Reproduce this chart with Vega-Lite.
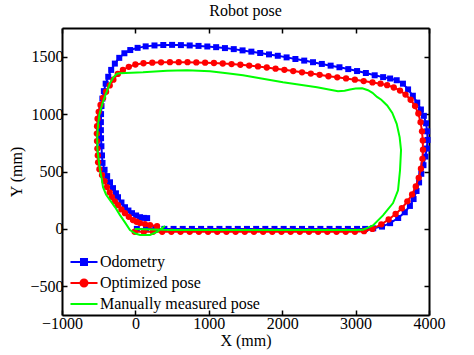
{
 "$schema": "https://vega.github.io/schema/vega-lite/v6.json",
 "width": 367, "height": 287,
 "autosize": "none",
 "padding": {"left": 62, "top": 28, "right": 45, "bottom": 40},
 "background": "white",
 "title": {"text": "Robot pose", "font": "Liberation Serif", "fontSize": 16, "fontWeight": "normal", "color": "black", "offset": 8},
 "config": {
  "font": "Liberation Serif",
  "view": {"stroke": null},
  "axis": {"domainColor": "black", "domainWidth": 2, "tickColor": "black", "tickWidth": 1.5, "labelFont": "Liberation Serif", "labelFontSize": 16, "labelColor": "black", "titleFont": "Liberation Serif", "titleFontSize": 16, "titleFontWeight": "normal", "titleColor": "black", "grid": false, "labelFlush": false, "labelOverlap": false, "format": "d"},
  "legend": {"labelFont": "Liberation Serif", "labelFontSize": 16, "labelColor": "black"}
 },
 "datasets": {
  "odo": [
   {"i":1,"x":20,"y":0},{"i":2,"x":145,"y":0},{"i":3,"x":270,"y":0},{"i":4,"x":395,"y":0},{"i":5,"x":520,"y":0},{"i":6,"x":645,"y":0},{"i":7,"x":770,"y":0},{"i":8,"x":895,"y":0},{"i":9,"x":1020,"y":0},{"i":10,"x":1145,"y":0},{"i":11,"x":1270,"y":0},{"i":12,"x":1395,"y":0},{"i":13,"x":1520,"y":0},{"i":14,"x":1645,"y":0},{"i":15,"x":1770,"y":0},{"i":16,"x":1895,"y":0},{"i":17,"x":2020,"y":0},{"i":18,"x":2145,"y":0},{"i":19,"x":2270,"y":0},{"i":20,"x":2395,"y":0},{"i":21,"x":2520,"y":0},{"i":22,"x":2645,"y":0},{"i":23,"x":2770,"y":0},{"i":24,"x":2895,"y":0},{"i":25,"x":3020,"y":0},{"i":26,"x":3130,"y":0},
   {"i":27,"x":3240,"y":5},{"i":28,"x":3360,"y":20},{"i":29,"x":3470,"y":50},{"i":30,"x":3580,"y":95},{"i":31,"x":3670,"y":145},{"i":32,"x":3740,"y":200},{"i":33,"x":3790,"y":260},{"i":34,"x":3830,"y":330},{"i":35,"x":3865,"y":405},{"i":36,"x":3895,"y":480},{"i":37,"x":3925,"y":555},{"i":38,"x":3950,"y":630},{"i":39,"x":3970,"y":700},{"i":40,"x":3980,"y":775},{"i":41,"x":3975,"y":850},{"i":42,"x":3960,"y":920},{"i":43,"x":3930,"y":985},{"i":44,"x":3890,"y":1040},{"i":45,"x":3840,"y":1100},{"i":46,"x":3780,"y":1160},{"i":47,"x":3715,"y":1215},{"i":48,"x":3645,"y":1265},{"i":49,"x":3560,"y":1295},{"i":50,"x":3470,"y":1310},{"i":51,"x":3375,"y":1322},
   {"i":52,"x":3260,"y":1338},{"i":53,"x":3140,"y":1358},{"i":54,"x":3020,"y":1375},{"i":55,"x":2900,"y":1392},{"i":56,"x":2780,"y":1408},{"i":57,"x":2660,"y":1422},{"i":58,"x":2540,"y":1437},{"i":59,"x":2420,"y":1452},{"i":60,"x":2300,"y":1466},{"i":61,"x":2180,"y":1480},{"i":62,"x":2060,"y":1494},{"i":63,"x":1940,"y":1508},{"i":64,"x":1820,"y":1520},{"i":65,"x":1700,"y":1532},{"i":66,"x":1580,"y":1544},{"i":67,"x":1460,"y":1555},{"i":68,"x":1340,"y":1566},{"i":69,"x":1220,"y":1575},{"i":70,"x":1100,"y":1583},{"i":71,"x":980,"y":1589},{"i":72,"x":860,"y":1594},{"i":73,"x":740,"y":1598},{"i":74,"x":620,"y":1601},{"i":75,"x":500,"y":1603},{"i":76,"x":380,"y":1602},{"i":77,"x":260,"y":1598},{"i":78,"x":140,"y":1590},{"i":79,"x":30,"y":1577},{"i":80,"x":-70,"y":1558},{"i":81,"x":-150,"y":1530},{"i":82,"x":-220,"y":1490},{"i":83,"x":-280,"y":1440},{"i":84,"x":-330,"y":1385},{"i":85,"x":-370,"y":1325},{"i":86,"x":-405,"y":1265},{"i":87,"x":-430,"y":1200},{"i":88,"x":-450,"y":1135},{"i":89,"x":-462,"y":1070},{"i":90,"x":-468,"y":1000},{"i":91,"x":-470,"y":930},{"i":92,"x":-470,"y":860},{"i":93,"x":-468,"y":790},{"i":94,"x":-463,"y":720},{"i":95,"x":-455,"y":640},{"i":96,"x":-448,"y":575},{"i":97,"x":-420,"y":515},{"i":98,"x":-385,"y":460},{"i":99,"x":-346,"y":406},{"i":100,"x":-305,"y":355},{"i":101,"x":-265,"y":310},{"i":102,"x":-237,"y":276},{"i":103,"x":-190,"y":230},{"i":104,"x":-142,"y":189},{"i":105,"x":-95,"y":160},{"i":106,"x":-46,"y":137},{"i":107,"x":10,"y":117},{"i":108,"x":63,"y":102},{"i":109,"x":115,"y":96},{"i":110,"x":160,"y":94}
  ],
  "opt": [
   {"i":1,"x":-10,"y":-25},{"i":2,"x":115,"y":-25},{"i":3,"x":240,"y":-25},{"i":4,"x":365,"y":-25},{"i":5,"x":490,"y":-25},{"i":6,"x":615,"y":-25},{"i":7,"x":740,"y":-25},{"i":8,"x":865,"y":-25},{"i":9,"x":990,"y":-25},{"i":10,"x":1115,"y":-25},{"i":11,"x":1240,"y":-25},{"i":12,"x":1365,"y":-25},{"i":13,"x":1490,"y":-25},{"i":14,"x":1615,"y":-25},{"i":15,"x":1740,"y":-25},{"i":16,"x":1865,"y":-25},{"i":17,"x":1990,"y":-25},{"i":18,"x":2115,"y":-25},{"i":19,"x":2240,"y":-25},{"i":20,"x":2365,"y":-25},{"i":21,"x":2490,"y":-25},{"i":22,"x":2615,"y":-25},{"i":23,"x":2740,"y":-25},{"i":24,"x":2865,"y":-25},{"i":25,"x":2990,"y":-25},{"i":26,"x":3115,"y":-20},
   {"i":27,"x":3230,"y":0},{"i":28,"x":3350,"y":40},{"i":29,"x":3450,"y":82},{"i":30,"x":3545,"y":130},{"i":31,"x":3630,"y":180},{"i":32,"x":3705,"y":240},{"i":33,"x":3770,"y":300},{"i":34,"x":3820,"y":370},{"i":35,"x":3860,"y":445},{"i":36,"x":3890,"y":525},{"i":37,"x":3910,"y":610},{"i":38,"x":3918,"y":690},{"i":39,"x":3915,"y":770},{"i":40,"x":3905,"y":850},{"i":41,"x":3885,"y":930},{"i":42,"x":3855,"y":1005},{"i":43,"x":3810,"y":1070},{"i":44,"x":3750,"y":1125},{"i":45,"x":3680,"y":1170},{"i":46,"x":3605,"y":1205},{"i":47,"x":3520,"y":1232},{"i":48,"x":3430,"y":1252},{"i":49,"x":3340,"y":1265},
   {"i":50,"x":3230,"y":1276},{"i":51,"x":3110,"y":1288},{"i":52,"x":2990,"y":1300},{"i":53,"x":2870,"y":1311},{"i":54,"x":2750,"y":1320},{"i":55,"x":2630,"y":1330},{"i":56,"x":2510,"y":1342},{"i":57,"x":2390,"y":1353},{"i":58,"x":2270,"y":1364},{"i":59,"x":2150,"y":1375},{"i":60,"x":2030,"y":1386},{"i":61,"x":1910,"y":1396},{"i":62,"x":1790,"y":1406},{"i":63,"x":1670,"y":1415},{"i":64,"x":1550,"y":1423},{"i":65,"x":1430,"y":1430},{"i":66,"x":1310,"y":1436},{"i":67,"x":1190,"y":1441},{"i":68,"x":1070,"y":1445},{"i":69,"x":950,"y":1448},{"i":70,"x":830,"y":1450},{"i":71,"x":710,"y":1452},{"i":72,"x":590,"y":1452},{"i":73,"x":470,"y":1452},{"i":74,"x":350,"y":1451},{"i":75,"x":230,"y":1448},{"i":76,"x":110,"y":1443},{"i":77,"x":0,"y":1432},{"i":78,"x":-90,"y":1412},{"i":79,"x":-170,"y":1385},{"i":80,"x":-240,"y":1350},{"i":81,"x":-300,"y":1300},{"i":82,"x":-350,"y":1250},{"i":83,"x":-400,"y":1195},{"i":84,"x":-440,"y":1140},{"i":85,"x":-475,"y":1080},{"i":86,"x":-500,"y":1020},{"i":87,"x":-515,"y":960},{"i":88,"x":-522,"y":895},{"i":89,"x":-525,"y":830},{"i":90,"x":-523,"y":765},{"i":91,"x":-518,"y":700},{"i":92,"x":-512,"y":640},{"i":93,"x":-508,"y":580},{"i":94,"x":-490,"y":520},{"i":95,"x":-455,"y":469},{"i":96,"x":-420,"y":415},{"i":97,"x":-387,"y":364},{"i":98,"x":-350,"y":318},{"i":99,"x":-319,"y":277},{"i":100,"x":-280,"y":240},{"i":101,"x":-237,"y":207},{"i":102,"x":-190,"y":170},{"i":103,"x":-142,"y":137},{"i":104,"x":-90,"y":105},{"i":105,"x":-33,"y":77},{"i":106,"x":15,"y":62},{"i":107,"x":63,"y":51},{"i":108,"x":130,"y":42},{"i":109,"x":199,"y":33},{"i":110,"x":295,"y":24}
  ],
  "man": [
   {"i":1,"x":-10,"y":0},{"i":2,"x":500,"y":-10},{"i":3,"x":1000,"y":-10},{"i":4,"x":1500,"y":-10},{"i":5,"x":2000,"y":-10},{"i":6,"x":2500,"y":-10},{"i":7,"x":3000,"y":-10},{"i":8,"x":3100,"y":-8},{"i":9,"x":3237,"y":31},{"i":10,"x":3373,"y":118},{"i":11,"x":3510,"y":225},{"i":12,"x":3578,"y":336},{"i":13,"x":3605,"y":510},{"i":14,"x":3619,"y":686},{"i":15,"x":3600,"y":800},{"i":16,"x":3560,"y":915},{"i":17,"x":3500,"y":1010},{"i":18,"x":3430,"y":1075},{"i":19,"x":3350,"y":1125},{"i":20,"x":3292,"y":1150},{"i":21,"x":3230,"y":1185},{"i":22,"x":3169,"y":1208},{"i":23,"x":3090,"y":1225},{"i":24,"x":3000,"y":1222},{"i":25,"x":2924,"y":1214},{"i":26,"x":2850,"y":1203},{"i":27,"x":2760,"y":1199},{"i":28,"x":2474,"y":1234},{"i":29,"x":2011,"y":1277},{"i":30,"x":1698,"y":1312},{"i":31,"x":1466,"y":1338},{"i":32,"x":1248,"y":1356},{"i":33,"x":1016,"y":1373},{"i":34,"x":703,"y":1382},{"i":35,"x":431,"y":1378},{"i":36,"x":104,"y":1364},{"i":37,"x":-210,"y":1356},{"i":38,"x":-251,"y":1352},{"i":39,"x":-300,"y":1320},{"i":40,"x":-346,"y":1270},{"i":41,"x":-400,"y":1180},{"i":42,"x":-450,"y":1090},{"i":43,"x":-490,"y":1000},{"i":44,"x":-510,"y":900},{"i":45,"x":-520,"y":800},{"i":46,"x":-518,"y":700},{"i":47,"x":-500,"y":600},{"i":48,"x":-482,"y":512},{"i":49,"x":-460,"y":440},{"i":50,"x":-441,"y":364},{"i":51,"x":-400,"y":300},{"i":52,"x":-346,"y":250},{"i":53,"x":-278,"y":190},{"i":54,"x":-210,"y":120},{"i":55,"x":-140,"y":55},{"i":56,"x":-74,"y":-10},{"i":57,"x":0,"y":-40},{"i":58,"x":63,"y":-53},{"i":59,"x":199,"y":-53},{"i":60,"x":295,"y":-27},{"i":61,"x":363,"y":7},{"i":62,"x":404,"y":25}
  ]
 },
 "layer": [
  {
   "data": {"name": "odo"},
   "mark": {"type": "line", "strokeWidth": 2},
   "encoding": {
    "x": {"field": "x", "type": "quantitative", "scale": {"domain": [-1000, 4000], "nice": false, "zero": false}, "axis": {"orient": "bottom", "values": [-1000, 0, 1000, 2000, 3000, 4000], "format": "d", "labelFont": "Liberation Serif", "labelFontSize": 16, "title": "X (mm)", "tickSize": -5, "labelPadding": 5, "titlePadding": 1}},
    "y": {"field": "y", "type": "quantitative", "scale": {"domain": [-750, 1750], "nice": false, "zero": false}, "axis": {"orient": "left", "values": [-500, 0, 500, 1000, 1500], "format": "d", "labelFont": "Liberation Serif", "labelFontSize": 16, "title": "Y (mm)", "tickSize": -5, "labelPadding": 4, "titlePadding": 5}},
    "order": {"field": "i"},
    "color": {"datum": "Odometry", "type": "nominal",
     "scale": {"domain": ["Odometry", "Optimized pose", "Manually measured pose"], "range": ["#0000ff", "#ff0000", "#00ff00"]},
     "legend": {"orient": "none", "legendX": 14, "legendY": 226, "title": null, "labelFont": "Liberation Serif", "labelFontSize": 16, "labelColor": "black", "symbolSize": 196, "labelOffset": 8, "rowPadding": 5, "padding": 0,
      "encode": {
       "labels": {"update": {"font": {"value": "Liberation Serif"}, "fontSize": {"value": 16}, "fill": {"value": "black"}}},
       "symbols": {"update": {
       "shape": {"signal": "datum.value === 'Odometry' ? 'M-1.93,0H1.93M-0.43,-0.43H0.43V0.43H-0.43Z' : datum.value === 'Optimized pose' ? 'M-1.93,0H1.93M0.5,0A0.5,0.5,0,1,1,-0.5,0A0.5,0.5,0,1,1,0.5,0Z' : 'M-1.93,0H1.93'"},
       "fill": {"signal": "datum.value === 'Odometry' ? '#0000ff' : datum.value === 'Optimized pose' ? '#ff0000' : '#00ff00'"},
       "stroke": {"signal": "datum.value === 'Odometry' ? '#0000ff' : datum.value === 'Optimized pose' ? '#ff0000' : '#00ff00'"},
       "strokeWidth": {"value": 2},
       "opacity": {"value": 1},
       "fillOpacity": {"value": 1}
      }}}}
    }
   }
  },
  {
   "data": {"name": "odo"},
   "mark": {"type": "point", "shape": "square", "filled": true, "size": 36, "opacity": 1, "color": "#0000ff"},
   "encoding": {
    "x": {"field": "x", "type": "quantitative", "axis": null},
    "y": {"field": "y", "type": "quantitative", "axis": null}
   }
  },
  {
   "data": {"name": "opt"},
   "mark": {"type": "line", "strokeWidth": 2},
   "encoding": {
    "x": {"field": "x", "type": "quantitative", "axis": null},
    "y": {"field": "y", "type": "quantitative", "axis": null},
    "order": {"field": "i"},
    "color": {"datum": "Optimized pose", "type": "nominal"}
   }
  },
  {
   "data": {"name": "opt"},
   "mark": {"type": "point", "shape": "circle", "filled": true, "size": 40, "opacity": 1, "color": "#ff0000"},
   "encoding": {
    "x": {"field": "x", "type": "quantitative", "axis": null},
    "y": {"field": "y", "type": "quantitative", "axis": null}
   }
  },
  {
   "data": {"name": "man"},
   "mark": {"type": "line", "strokeWidth": 2},
   "encoding": {
    "x": {"field": "x", "type": "quantitative", "axis": {"orient": "top", "values": [-1000, 0, 1000, 2000, 3000, 4000], "labels": false, "title": null, "tickSize": -5}},
    "y": {"field": "y", "type": "quantitative", "axis": {"orient": "right", "values": [-500, 0, 500, 1000, 1500], "labels": false, "title": null, "tickSize": -5}},
    "order": {"field": "i"},
    "color": {"datum": "Manually measured pose", "type": "nominal"}
   }
  }
 ],
 "resolve": {"axis": {"x": "independent", "y": "independent"}}
}
